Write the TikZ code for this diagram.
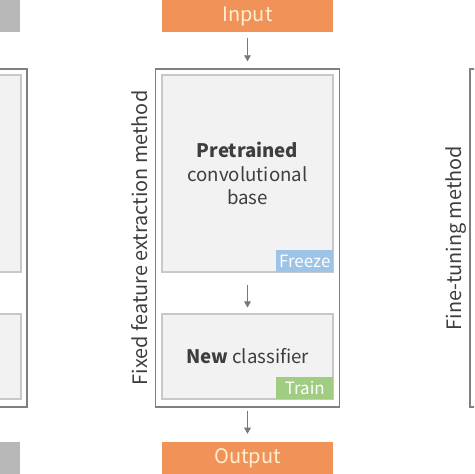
\documentclass[tikz,border=0pt]{standalone}
\usepackage{fontspec}
\setmainfont{Noto Sans CJK JP}
\usetikzlibrary{positioning,calc,arrows.meta}

\definecolor{ioOrange}{RGB}{241,146,88}
\definecolor{ioText}{RGB}{255,238,208}
\definecolor{sideGray}{RGB}{184,184,184}
\definecolor{frameGray}{RGB}{128,128,128}
\definecolor{layerFill}{RGB}{242,242,242}
\definecolor{layerLine}{RGB}{200,200,200}
\definecolor{freezeBlue}{RGB}{157,195,230}
\definecolor{trainGreen}{RGB}{160,205,130}
\definecolor{labelText}{RGB}{62,62,62}
\definecolor{arrowGray}{RGB}{120,120,120}

\tikzset{
  iobox/.style={fill=ioOrange, text=ioText, inner sep=0pt,
    minimum width=128.25pt, minimum height=24pt,
    font=\fontsize{15}{18}\selectfont},
  sidebox/.style={fill=sideGray, inner sep=0pt,
    minimum width=128.25pt, minimum height=24pt},
  framebox/.style={draw=frameGray, line width=1.1pt, fill=white,
    minimum width=138pt, minimum height=253.5pt},
  layerbox/.style={draw=layerLine, line width=0.8pt, fill=layerFill,
    text=labelText, align=center, minimum width=128.25pt,
    font=\fontsize{14}{17.6}\selectfont},
  tagbox/.style={text=white, inner sep=0pt, minimum width=42.75pt,
    minimum height=17pt, font=\fontsize{12.7}{14}\selectfont},
  sidelabel/.style={rotate=90, anchor=base, text=labelText,
    font=\fontsize{14.9}{18}\selectfont},
  flow/.style={draw=arrowGray, line width=0.6pt,
    -{Triangle[length=4.5pt,width=5pt]}}
}

\begin{document}
\begin{tikzpicture}[x=0.75pt,y=0.75pt,yscale=-1,xscale=1]
\useasboundingbox (0,0) rectangle (474,474);
\clip (0,0) rectangle (474,474);

%Shape: Rectangle (left column, cut off)
\node [sidebox] (inputL) at (-65.5,16) {};
\node [framebox] (frameL) at (-65,238) {};
\node [layerbox, minimum height=147.75pt] (baseL) at (-64.5,173.5) {};
\node [layerbox, minimum height=63.75pt] (clsL) at (-64.5,356.5) {};
\node [sidebox] (outputL) at (-65.5,458) {};

%Shape: Rectangle (right column, cut off)
\node [framebox] (frameR) at (562,238) {};

%Shape: Rectangle (middle column)
\node [iobox] (input) at (247.5,16) {Input};
\node [framebox] (frame) at (247.5,238) {};
\node [layerbox, minimum height=147.75pt] (base) at (247.5,173.5)
  {\textbf{Pretrained}\\convolutional\\base};
\node [tagbox, fill=freezeBlue, anchor=south east] (freeze) at (base.south east) {Freeze};
\node [layerbox, minimum height=63.75pt] (cls) at (247.5,356.5)
  {\textbf{New} classifier};
\node [tagbox, fill=trainGreen, anchor=south east] (train) at (cls.south east) {Train};
\node [iobox] (output) at (247.5,458) {Output};

% Text Node
\node [sidelabel] (fixedLabel) at ($(frame.west)+(-7,0)$) {Fixed feature extraction method};
% Text Node
\node [sidelabel] (fineLabel) at ($(frameR.west)+(-8,0)$) {Fine-tuning method};

%Straight Lines
\draw [flow, shorten <=4.5pt, shorten >=5.25pt] (input.south) -- (frame.north);
\draw [flow, shorten <=9pt, shorten >=4.5pt] (base.south) -- (cls.north);
\draw [flow, shorten <=2.25pt, shorten >=6pt] (frame.south) -- (output.north);
\end{tikzpicture}
\end{document}
